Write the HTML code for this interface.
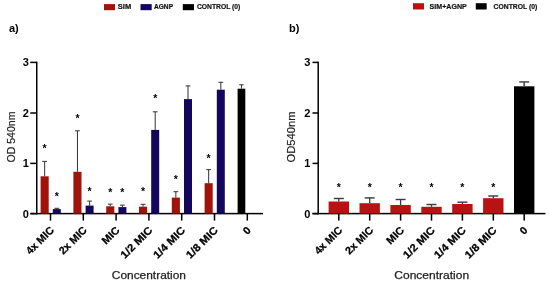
<!DOCTYPE html>
<html><head><meta charset="utf-8"><title>OD 540nm bar charts</title>
<style>
html,body{margin:0;padding:0;background:#fff;width:550px;height:284px;overflow:hidden}
svg{display:block}
text{font-family:"Liberation Sans", Arial, sans-serif;fill:#000}
.st{font-weight:bold}
.yt{font-size:11px;font-weight:bold}
.xl{font-size:10.6px;font-weight:bold;stroke:#000;stroke-width:0.25px}
.ti{font-size:11.2px;fill:#1e1e1e;stroke:#1e1e1e;stroke-width:0.25px}
.ti2{font-size:10.5px;fill:#1e1e1e;stroke:#1e1e1e;stroke-width:0.2px}
.pl{font-size:11px;font-weight:bold}
.lg{font-size:7.4px;font-weight:bold;fill:#111;stroke:#111;stroke-width:0.2px}
</style></head>
<body>
<svg width="550" height="284" viewBox="0 0 550 284">
<rect x="36.00" y="61.65" width="1.5" height="152.70" fill="#000"/>
<rect x="30.25" y="61.65" width="6.50" height="1.5" fill="#000"/>
<rect x="30.25" y="112.25" width="6.50" height="1.5" fill="#000"/>
<rect x="30.25" y="162.65" width="6.50" height="1.5" fill="#000"/>
<rect x="30.25" y="212.85" width="6.50" height="1.5" fill="#000"/>
<rect x="30.50" y="212.85" width="232.50" height="1.5" fill="#000"/>
<rect x="49.75" y="213.60" width="1.5" height="7" fill="#000"/>
<rect x="82.55" y="213.60" width="1.5" height="7" fill="#000"/>
<rect x="115.35" y="213.60" width="1.5" height="7" fill="#000"/>
<rect x="148.15" y="213.60" width="1.5" height="7" fill="#000"/>
<rect x="180.95" y="213.60" width="1.5" height="7" fill="#000"/>
<rect x="213.75" y="213.60" width="1.5" height="7" fill="#000"/>
<rect x="246.55" y="213.60" width="1.5" height="7" fill="#000"/>
<rect x="40.60" y="176.30" width="8.10" height="37.30" fill="#a0130a"/>
<rect x="52.80" y="209.10" width="8.00" height="4.50" fill="#14065c"/>
<rect x="44.15" y="161.40" width="1.0" height="14.90" fill="#333"/>
<rect x="42.25" y="160.90" width="4.80" height="1.0" fill="#333"/>
<rect x="56.30" y="208.30" width="1.0" height="0.80" fill="#333"/>
<rect x="54.40" y="207.80" width="4.80" height="1.0" fill="#333"/>
<text x="44.65" y="152.47" font-size="10.5" text-anchor="middle" class="st">*</text>
<text x="56.80" y="199.97" font-size="10.5" text-anchor="middle" class="st">*</text>
<rect x="73.40" y="171.80" width="8.10" height="41.80" fill="#a0130a"/>
<rect x="85.60" y="205.60" width="8.00" height="8.00" fill="#14065c"/>
<rect x="76.95" y="130.80" width="1.0" height="41.00" fill="#333"/>
<rect x="75.05" y="130.30" width="4.80" height="1.0" fill="#333"/>
<rect x="89.10" y="201.10" width="1.0" height="4.50" fill="#333"/>
<rect x="87.20" y="200.60" width="4.80" height="1.0" fill="#333"/>
<text x="77.45" y="121.78" font-size="10.5" text-anchor="middle" class="st">*</text>
<text x="89.60" y="195.17" font-size="10.5" text-anchor="middle" class="st">*</text>
<rect x="106.20" y="206.30" width="8.10" height="7.30" fill="#a0130a"/>
<rect x="118.40" y="207.10" width="8.00" height="6.50" fill="#14065c"/>
<rect x="109.75" y="204.10" width="1.0" height="2.20" fill="#333"/>
<rect x="107.85" y="203.60" width="4.80" height="1.0" fill="#333"/>
<rect x="121.90" y="205.10" width="1.0" height="2.00" fill="#333"/>
<rect x="120.00" y="204.60" width="4.80" height="1.0" fill="#333"/>
<text x="110.25" y="195.78" font-size="10.5" text-anchor="middle" class="st">*</text>
<text x="122.40" y="195.57" font-size="10.5" text-anchor="middle" class="st">*</text>
<rect x="139.00" y="206.70" width="8.10" height="6.90" fill="#a0130a"/>
<rect x="151.20" y="129.90" width="8.00" height="83.70" fill="#14065c"/>
<rect x="142.55" y="204.30" width="1.0" height="2.40" fill="#333"/>
<rect x="140.65" y="203.80" width="4.80" height="1.0" fill="#333"/>
<rect x="154.70" y="111.80" width="1.0" height="18.10" fill="#333"/>
<rect x="152.80" y="111.30" width="4.80" height="1.0" fill="#333"/>
<text x="143.05" y="195.07" font-size="10.5" text-anchor="middle" class="st">*</text>
<text x="155.20" y="101.58" font-size="10.5" text-anchor="middle" class="st">*</text>
<rect x="171.80" y="197.60" width="8.10" height="16.00" fill="#a0130a"/>
<rect x="184.00" y="99.10" width="8.00" height="114.50" fill="#14065c"/>
<rect x="175.35" y="191.70" width="1.0" height="5.90" fill="#333"/>
<rect x="173.45" y="191.20" width="4.80" height="1.0" fill="#333"/>
<rect x="187.50" y="85.90" width="1.0" height="13.20" fill="#333"/>
<rect x="185.60" y="85.40" width="4.80" height="1.0" fill="#333"/>
<text x="175.85" y="182.97" font-size="10.5" text-anchor="middle" class="st">*</text>
<rect x="204.60" y="183.20" width="8.10" height="30.40" fill="#a0130a"/>
<rect x="216.80" y="89.70" width="8.00" height="123.90" fill="#14065c"/>
<rect x="208.15" y="169.60" width="1.0" height="13.60" fill="#333"/>
<rect x="206.25" y="169.10" width="4.80" height="1.0" fill="#333"/>
<rect x="220.30" y="82.30" width="1.0" height="7.40" fill="#333"/>
<rect x="218.40" y="81.80" width="4.80" height="1.0" fill="#333"/>
<text x="208.65" y="162.47" font-size="10.5" text-anchor="middle" class="st">*</text>
<rect x="237.60" y="88.70" width="7.70" height="124.90" fill="#000000"/>
<rect x="240.95" y="84.80" width="1.0" height="3.90" fill="#333"/>
<rect x="239.25" y="84.30" width="4.40" height="1.0" fill="#333"/>
<rect x="317.45" y="61.65" width="1.5" height="152.70" fill="#000"/>
<rect x="312.50" y="61.65" width="5.70" height="1.5" fill="#000"/>
<rect x="312.50" y="112.25" width="5.70" height="1.5" fill="#000"/>
<rect x="312.50" y="162.65" width="5.70" height="1.5" fill="#000"/>
<rect x="312.50" y="212.85" width="5.70" height="1.5" fill="#000"/>
<rect x="312.50" y="212.85" width="233.00" height="1.5" fill="#000"/>
<rect x="338.05" y="213.60" width="1.5" height="7" fill="#000"/>
<rect x="368.95" y="213.60" width="1.5" height="7" fill="#000"/>
<rect x="399.85" y="213.60" width="1.5" height="7" fill="#000"/>
<rect x="430.75" y="213.60" width="1.5" height="7" fill="#000"/>
<rect x="461.65" y="213.60" width="1.5" height="7" fill="#000"/>
<rect x="492.55" y="213.60" width="1.5" height="7" fill="#000"/>
<rect x="523.45" y="213.60" width="1.5" height="7" fill="#000"/>
<rect x="328.60" y="201.50" width="20.40" height="12.10" fill="#b81212"/>
<rect x="338.15" y="198.50" width="1.3" height="3.00" fill="#3a3a3a"/>
<rect x="333.80" y="197.80" width="10.00" height="1.4" fill="#3a3a3a"/>
<text x="338.80" y="191.47" font-size="10.5" text-anchor="middle" class="st">*</text>
<rect x="359.50" y="203.20" width="20.40" height="10.40" fill="#b81212"/>
<rect x="369.05" y="197.90" width="1.3" height="5.30" fill="#3a3a3a"/>
<rect x="364.70" y="197.20" width="10.00" height="1.4" fill="#3a3a3a"/>
<text x="369.70" y="191.47" font-size="10.5" text-anchor="middle" class="st">*</text>
<rect x="390.40" y="205.00" width="20.40" height="8.60" fill="#b81212"/>
<rect x="399.95" y="199.50" width="1.3" height="5.50" fill="#3a3a3a"/>
<rect x="395.60" y="198.80" width="10.00" height="1.4" fill="#3a3a3a"/>
<text x="400.60" y="191.47" font-size="10.5" text-anchor="middle" class="st">*</text>
<rect x="421.30" y="206.80" width="20.40" height="6.80" fill="#b81212"/>
<rect x="430.85" y="204.50" width="1.3" height="2.30" fill="#3a3a3a"/>
<rect x="426.50" y="203.80" width="10.00" height="1.4" fill="#3a3a3a"/>
<text x="431.50" y="191.47" font-size="10.5" text-anchor="middle" class="st">*</text>
<rect x="452.20" y="204.00" width="20.40" height="9.60" fill="#b81212"/>
<rect x="461.75" y="202.20" width="1.3" height="1.80" fill="#3a3a3a"/>
<rect x="457.40" y="201.50" width="10.00" height="1.4" fill="#3a3a3a"/>
<text x="462.40" y="191.47" font-size="10.5" text-anchor="middle" class="st">*</text>
<rect x="483.10" y="198.20" width="20.40" height="15.40" fill="#b81212"/>
<rect x="492.65" y="196.00" width="1.3" height="2.20" fill="#3a3a3a"/>
<rect x="488.30" y="195.30" width="10.00" height="1.4" fill="#3a3a3a"/>
<text x="493.30" y="191.47" font-size="10.5" text-anchor="middle" class="st">*</text>
<rect x="514.00" y="86.30" width="20.40" height="127.30" fill="#000000"/>
<rect x="523.30" y="81.90" width="1.8" height="4.40" fill="#555"/>
<rect x="519.20" y="81.10" width="10.00" height="1.6" fill="#555"/>
<text x="28.8" y="66.40" class="yt" text-anchor="end">3</text>
<text x="28.8" y="117.00" class="yt" text-anchor="end">2</text>
<text x="28.8" y="167.40" class="yt" text-anchor="end">1</text>
<text x="28.8" y="217.60" class="yt" text-anchor="end">0</text>
<text x="310.3" y="66.40" class="yt" text-anchor="end">3</text>
<text x="310.3" y="117.00" class="yt" text-anchor="end">2</text>
<text x="310.3" y="167.40" class="yt" text-anchor="end">1</text>
<text x="310.3" y="217.60" class="yt" text-anchor="end">0</text>
<text transform="translate(50.40,226.60) rotate(-45)" class="xl" text-anchor="end" x="0" y="6" textLength="34.34" lengthAdjust="spacingAndGlyphs">4x MIC</text>
<text transform="translate(83.20,226.60) rotate(-45)" class="xl" text-anchor="end" x="0" y="6" textLength="34.34" lengthAdjust="spacingAndGlyphs">2x MIC</text>
<text transform="translate(116.00,226.60) rotate(-45)" class="xl" text-anchor="end" x="0" y="6" textLength="20.04" lengthAdjust="spacingAndGlyphs">MIC</text>
<text transform="translate(148.80,226.60) rotate(-45)" class="xl" text-anchor="end" x="0" y="6" textLength="40.07" lengthAdjust="spacingAndGlyphs">1/2 MIC</text>
<text transform="translate(181.60,226.60) rotate(-45)" class="xl" text-anchor="end" x="0" y="6" textLength="40.07" lengthAdjust="spacingAndGlyphs">1/4 MIC</text>
<text transform="translate(214.40,226.60) rotate(-45)" class="xl" text-anchor="end" x="0" y="6" textLength="40.07" lengthAdjust="spacingAndGlyphs">1/8 MIC</text>
<text transform="translate(247.20,226.60) rotate(-45)" class="xl" text-anchor="end" x="0" y="6" textLength="6.08" lengthAdjust="spacingAndGlyphs">0</text>
<text transform="translate(338.70,226.60) rotate(-45)" class="xl" text-anchor="end" x="0" y="6" textLength="34.34" lengthAdjust="spacingAndGlyphs">4x MIC</text>
<text transform="translate(369.60,226.60) rotate(-45)" class="xl" text-anchor="end" x="0" y="6" textLength="34.34" lengthAdjust="spacingAndGlyphs">2x MIC</text>
<text transform="translate(400.50,226.60) rotate(-45)" class="xl" text-anchor="end" x="0" y="6" textLength="20.04" lengthAdjust="spacingAndGlyphs">MIC</text>
<text transform="translate(431.40,226.60) rotate(-45)" class="xl" text-anchor="end" x="0" y="6" textLength="40.07" lengthAdjust="spacingAndGlyphs">1/2 MIC</text>
<text transform="translate(462.30,226.60) rotate(-45)" class="xl" text-anchor="end" x="0" y="6" textLength="40.07" lengthAdjust="spacingAndGlyphs">1/4 MIC</text>
<text transform="translate(493.20,226.60) rotate(-45)" class="xl" text-anchor="end" x="0" y="6" textLength="40.07" lengthAdjust="spacingAndGlyphs">1/8 MIC</text>
<text transform="translate(524.10,226.60) rotate(-45)" class="xl" text-anchor="end" x="0" y="6" textLength="6.08" lengthAdjust="spacingAndGlyphs">0</text>
<text x="111.8" y="278.8" class="ti" textLength="74.2" lengthAdjust="spacingAndGlyphs">Concentration</text>
<text x="394.3" y="278.6" class="ti" textLength="74.8" lengthAdjust="spacingAndGlyphs">Concentration</text>
<text transform="translate(15.2,137) rotate(-90)" class="ti2" text-anchor="middle">OD 540nm</text>
<text transform="translate(295.0,137) rotate(-90)" class="ti2" text-anchor="middle" style="font-size:11.2px">OD540nm</text>
<text x="9" y="31.7" class="pl">a)</text>
<text x="289" y="31.7" class="pl">b)</text>
<rect x="104" y="4.1" width="11.00" height="6.10" fill="#a0130a"/>
<text x="117.8" y="9.4" class="lg" textLength="13.4" lengthAdjust="spacingAndGlyphs">SIM</text>
<rect x="140.5" y="4.1" width="11.20" height="6.10" fill="#14065c"/>
<text x="153.9" y="9.4" class="lg" textLength="19.2" lengthAdjust="spacingAndGlyphs">AGNP</text>
<rect x="182.8" y="4.1" width="11.20" height="6.10" fill="#000000"/>
<text x="196.9" y="9.4" class="lg" textLength="43.4" lengthAdjust="spacingAndGlyphs">CONTROL (0)</text>
<rect x="413" y="3.2" width="11.00" height="6.30" fill="#b81212"/>
<text x="429.6" y="9.4" class="lg" textLength="37.2" lengthAdjust="spacingAndGlyphs">SIM+AGNP</text>
<rect x="475.8" y="3.2" width="10.90" height="6.30" fill="#000000"/>
<text x="493.6" y="9.4" class="lg" textLength="43.6" lengthAdjust="spacingAndGlyphs">CONTROL (0)</text>
</svg>
</body></html>
